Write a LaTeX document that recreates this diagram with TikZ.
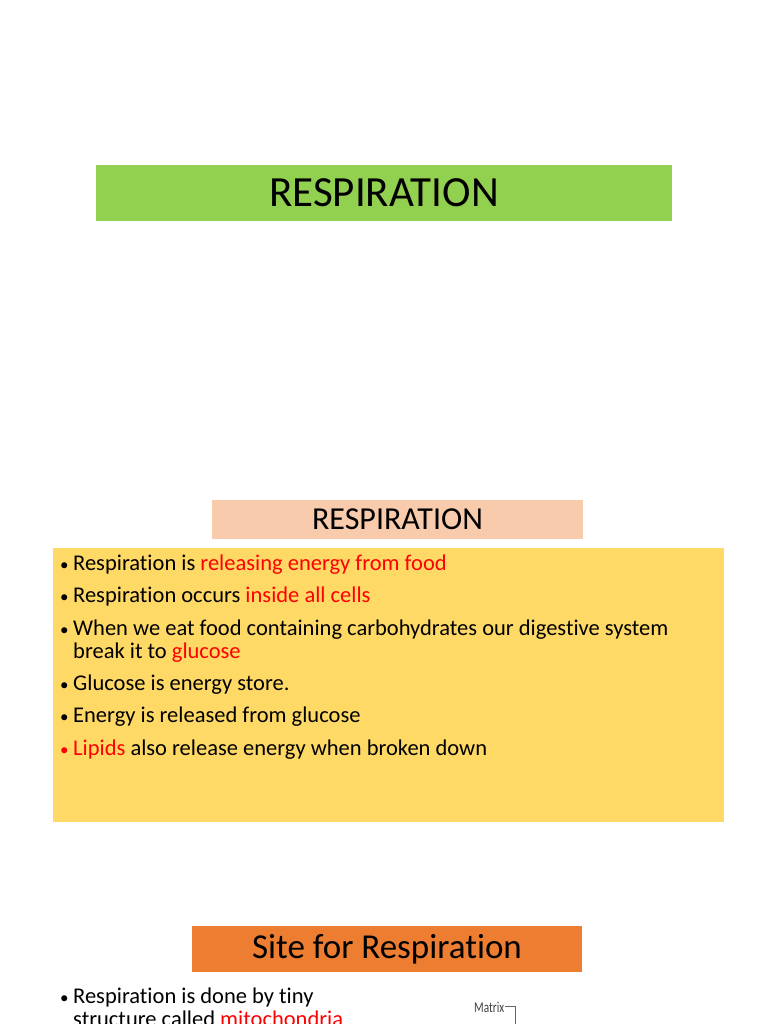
\documentclass[tikz,border=0pt]{standalone}
\usepackage{fontspec}
\setmainfont[Ligatures={NoCommon,NoRequired,NoContextual}]{Carlito}
\definecolor{rd}{HTML}{FF0000}
\definecolor{grn}{HTML}{92D050}
\definecolor{pch}{HTML}{F8CBAD}
\definecolor{ylw}{HTML}{FFD966}
\definecolor{org}{HTML}{ED7D31}
\begin{document}
\begin{tikzpicture}[x=1pt,y=-1pt,
 bl/.style={anchor=base west,inner sep=0pt,font=\fontsize{22.5}{26}\selectfont},
 bu/.style={anchor=base west,inner sep=0pt,font=\fontsize{17}{20}\selectfont},
 hd/.style={inner sep=0pt}]
\useasboundingbox (0,0) rectangle (768,1024);
\fill[white] (0,0) rectangle (768,1024);
\node[hd,fill=grn,minimum width=576pt,minimum height=56pt,font=\fontsize{43}{46}\selectfont] (t1) at (384,193) {RESPIRATION};
\node[hd,fill=pch,minimum width=371pt,minimum height=39pt,font=\fontsize{32}{34}\selectfont] (t2) at (397.5,519.5) {RESPIRATION};
\fill[ylw] (53,548) rectangle (724,822);
\node[bu] (b0) at (60,570) {•};
\node[bl] (l1) at (73,570) {Respiration is \textcolor{rd}{releasing energy from food}};
\node[bu] at (60,602) {•};
\node[bl] (l2) at (73,602) {Respiration occurs \textcolor{rd}{inside all cells}};
\node[bu] at (60,635) {•};
\node[bl] (l3) at (73,635) {When we eat food containing carbohydrates our digestive system};
\node[bl] (l3b) at (73,658) {break it to \textcolor{rd}{glucose}};
\node[bu] at (60,690) {•};
\node[bl] (l4) at (73,690) {Glucose is energy store.};
\node[bu] at (60,722) {•};
\node[bl] (l5) at (73,722) {Energy is released from glucose};
\node[bu] at (60,755) {\textcolor{rd}{•}};
\node[bl] (l6) at (73,755) {\textcolor{rd}{Lipids} also release energy when broken down};
\node[hd,fill=org,minimum width=390pt,minimum height=46pt,font=\fontsize{35}{38}\selectfont] (t3) at (387,949) {Site for Respiration};
\node[bu] at (60,1003) {•};
\node[bl] (m1) at (73,1003) {Respiration is done by tiny};
\node[bl] (m2) at (73,1026) {structure called \textcolor{rd}{mitochondria}};
\node[anchor=base west,inner sep=0pt,font=\fontsize{15}{16}\selectfont,xscale=0.75,text=black!75] (mx) at (474,1012) {Matrix};
\draw[black!60,line width=1pt] (mx.east) ++(1pt,0) -- ++(10,0) -- ++(0,20);
\end{tikzpicture}
\end{document}
